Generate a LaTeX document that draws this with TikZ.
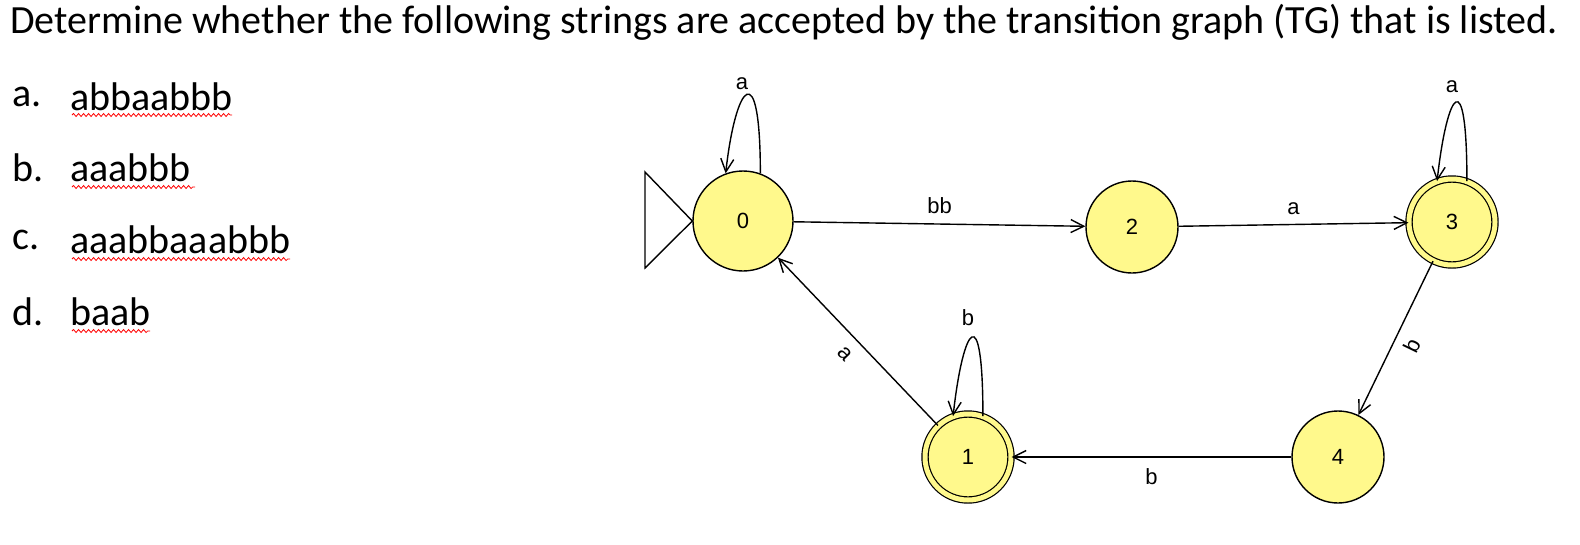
\documentclass[tikz,border=0pt]{standalone}
\usepackage{fontspec}
\setmainfont{Carlito}
\newfontfamily\lab{Liberation Sans}
\usetikzlibrary{arrows.meta,decorations.pathmorphing}
\begin{document}
\begin{tikzpicture}[x=1pt,y=-1pt,
  st/.style={circle,draw,line width=1.4pt,fill=yellow!45,minimum size=92pt,inner sep=0pt,font=\lab\fontsize{22}{22}\selectfont},
  acc/.style={st,double=yellow!45,double distance=5pt,line width=1.2pt,minimum size=86pt},
  ed/.style={draw,-{Straight Barb[length=13pt,width=13pt]},line width=1.4pt},
  lb/.style={font=\lab\fontsize{22}{22}\selectfont},
  tx/.style={anchor=west,font=\fontsize{40}{40}\selectfont,inner sep=0pt},
  wav/.style={draw=red,decorate,decoration={snake,amplitude=1.5pt,segment length=5pt},line width=0.8pt}]
\useasboundingbox (0,0) rectangle (1580,544);
\node[tx] (t) at (10,22) {Determine whether the following strings are accepted by the transition graph (TG) that is listed.};
\node[tx] (la) at (12,97) {a.}; \node[tx] (ia) at (70,97) {abbaabbb};
\node[tx] (lbb) at (12,168) {b.}; \node[tx] (ib) at (70,168) {aaabbb};
\node[tx] (lc) at (12,240) {c.}; \node[tx] (ic) at (70,240) {aaabbaaabbb};
\node[tx] (ld) at (12,312) {d.}; \node[tx] (id) at (70,312) {baab};
\coordinate (ua1) at (72,115); \coordinate (ua2) at (232,115);
\coordinate (ub1) at (72,187); \coordinate (ub2) at (195,187);
\coordinate (uc1) at (72,259); \coordinate (uc2) at (290,259);
\coordinate (ud1) at (72,331); \coordinate (ud2) at (150,331);
\path[wav] (ua1)--(ua2); \path[wav] (ub1)--(ub2); \path[wav] (uc1)--(uc2); \path[wav] (ud1)--(ud2);
\node[st,minimum size=100pt] (n0) at (743,221) {0};
\node[st] (n2) at (1132,227) {2};
\node[acc] (n3) at (1452,222) {3};
\node[acc] (n1) at (968,457) {1};
\node[st] (n4) at (1338,457) {4};
\coordinate (s1) at (645,172); \coordinate (s2) at (645,268);
\draw[line width=1.4pt] (s1) -- (n0.west) -- (s2) -- cycle;
\path[ed] (n0) -- node[lb,above=6pt,pos=0.5]{bb} (n2);
\path[ed] (n2) -- node[lb,above=6pt]{a} (n3);
\path[ed] (n3) -- node[lb,sloped,below=6pt]{b} (n4);
\path[ed] (n4) -- node[lb,below=8pt]{b} (n1);
\path[ed] (n1) -- node[lb,sloped,below=8pt]{a} (n0);
\path[ed] (n0.70) .. controls +(0,-120) and +(10,-90) .. (n0.110);
\path[ed] (n3.70) .. controls +(0,-120) and +(10,-90) .. (n3.110);
\path[ed] (n1.70) .. controls +(0,-120) and +(10,-90) .. (n1.110);
\node[lb] (la0) at (742,84) {a};
\node[lb] (la3) at (1452,87) {a};
\node[lb] (lb1) at (968,318) {b};
\end{tikzpicture}
\end{document}
